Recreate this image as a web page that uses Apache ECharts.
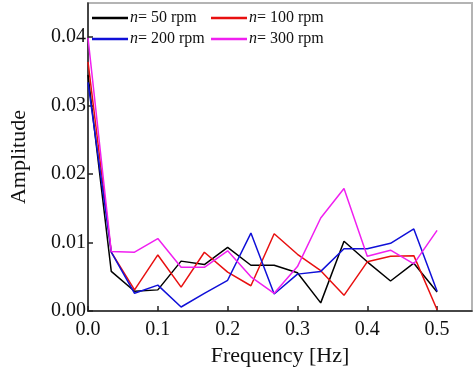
<!DOCTYPE html>
<html><head><meta charset="utf-8">
<script src="https://cdn.jsdelivr.net/npm/echarts@6/dist/echarts.min.js"></script>
<style>html,body{margin:0;padding:0;background:#fff}#c{width:474px;height:372px}</style>
</head><body><div id="c"></div>
<script>
const frequencies = [0, 1/30, 2/30, 3/30, 4/30, 5/30, 6/30, 7/30, 8/30, 9/30, 10/30, 11/30, 12/30, 13/30, 14/30, 15/30];
const rpm50  = [0.0345, 0.0058, 0.0029, 0.0031, 0.0073, 0.0068, 0.0093, 0.0067, 0.0067, 0.0056, 0.0012, 0.0102, 0.0072, 0.0044, 0.0070, 0.0028];
const rpm100 = [0.0364, 0.0086, 0.0031, 0.0082, 0.0035, 0.0086, 0.0057, 0.0037, 0.0113, 0.0083, 0.0059, 0.0023, 0.0072, 0.0080, 0.0081, 0.0002];
const rpm200 = [0.0334, 0.0086, 0.0026, 0.0038, 0.0006, 0.0026, 0.0045, 0.0114, 0.0025, 0.0054, 0.0058, 0.0091, 0.0091, 0.0099, 0.0120, 0.0029];
const rpm300 = [0.0399, 0.0087, 0.0086, 0.0106, 0.0064, 0.0064, 0.0088, 0.0050, 0.0026, 0.0065, 0.0136, 0.0179, 0.0080, 0.0089, 0.0069, 0.0118];
const seriesNames = ['50', '100', '200', '300'];
const seriesColors = ['#000000', '#e81010', '#1010d8', '#f020f0'];
const xTicks = [0, 0.1, 0.2, 0.3, 0.4, 0.5];
const yTicks = [0, 0.01, 0.02, 0.03, 0.04];

const values = [rpm50, rpm100, rpm200, rpm300];
const font = 'Liberation Serif';
const legendPos = [[92, 10], [211, 10], [92, 31], [211, 31]];
const chart = echarts.init(document.getElementById('c'));
chart.setOption({
  animation: false,
  grid: {left: 83.5, right: 2, top: 3, bottom: 57, show: true, borderColor: '#b4b4b4', borderWidth: 2, backgroundColor: 'transparent'},
  legend: seriesNames.map((n, i) => ({
    data: [n + ' rpm'], left: legendPos[i][0], top: legendPos[i][1],
    icon: 'rect', itemWidth: 36, itemHeight: 2.5, itemGap: 0, padding: 0,
    formatter: () => '{i|n}= ' + n + ' rpm',
    textStyle: {fontFamily: font, fontSize: 16, color: '#111', padding: [0,0,0,-3],
      rich: {i: {fontFamily: font, fontSize: 16, fontStyle: 'italic', color: '#111'}}}
  })),
  xAxis: {
    type: 'value', min: 0, max: 0.55, interval: 0.1,
    name: 'Frequency [Hz]', nameLocation: 'middle', nameGap: 32,
    nameTextStyle: {fontFamily: font, fontSize: 22, color: '#111'},
    axisLine: {lineStyle: {color: '#222', width: 1.5}},
    axisTick: {inside: true, length: 5, lineStyle: {color: '#222', width: 1.5}, customValues: xTicks},
    axisLabel: {fontFamily: font, fontSize: 20, color: '#111', margin: 9, customValues: xTicks,
      formatter: v => v.toFixed(1)},
    splitLine: {show: false}
  },
  yAxis: {
    type: 'value', min: 0, max: 0.045, interval: 0.01,
    name: 'Amplitude', nameLocation: 'middle', nameGap: 58,
    nameTextStyle: {fontFamily: font, fontSize: 22, color: '#111'},
    axisLine: {show: true, lineStyle: {color: '#222', width: 1.5}},
    axisTick: {show: true, inside: true, length: 5, lineStyle: {color: '#222', width: 1.5}, customValues: yTicks},
    axisLabel: {fontFamily: font, fontSize: 20, color: '#111', margin: 2, customValues: yTicks,
      formatter: v => v.toFixed(2)},
    splitLine: {show: false}
  },
  series: seriesNames.map((n, i) => ({
    name: n + ' rpm', type: 'line', showSymbol: false, symbol: 'none',
    data: frequencies.map((f, k) => [f, values[i][k]]),
    lineStyle: {color: seriesColors[i], width: 1.5}, itemStyle: {color: seriesColors[i]}
  }))
});
</script></body></html>
